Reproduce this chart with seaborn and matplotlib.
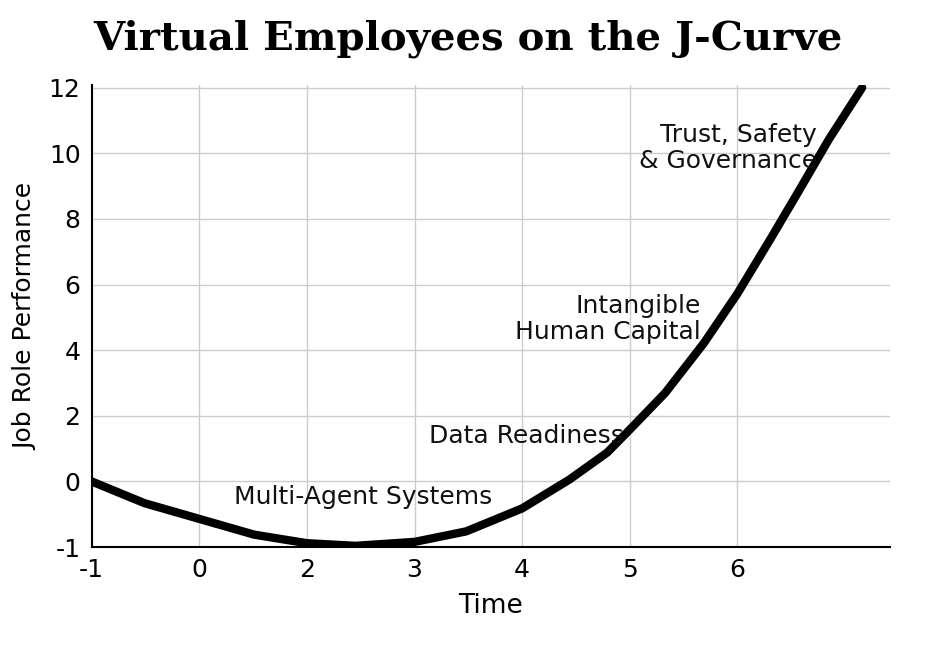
import matplotlib
matplotlib.use("Agg")
import matplotlib.pyplot as plt
import seaborn as sns

# tick labels sit on an evenly spaced grid, so positions are indices
x_labels = ["-1", "0", "2", "3", "4", "5", "6"]
y_labels = ["-1", "0", "2", "4", "6", "8", "10", "12"]

# curve, in grid-position units
curve_x = [0, 0.49, 1, 1.51, 2, 2.45, 3, 3.48, 4, 4.44, 4.79, 5, 5.33, 5.69, 6, 6.31, 6.58, 6.85, 7.16]
curve_y = [1, 0.67, 0.43, 0.19, 0.06, 0.02, 0.08, 0.24, 0.59, 1.03, 1.44, 1.79, 2.35, 3.11, 3.86, 4.70, 5.45, 6.21, 7.0]

labels = ["Multi-Agent Systems", "Data Readiness", "Intangible\nHuman Capital", "Trust, Safety\n& Governance"]
label_x = [2.52, 4.04, 5.66, 6.74]
label_y = [0.76, 1.7, 3.48, 6.08]
label_ha = ["center", "center", "right", "right"]

sns.set_theme(style="whitegrid")
plt.rcParams['font.family'] = ['DejaVu Sans']

fig = plt.figure(figsize=(9.36, 6.64), dpi=100)
ax = fig.add_axes([0.098, 0.176, 0.853, 0.696])

sns.lineplot(x=curve_x, y=curve_y, ax=ax, color="black", linewidth=6, sort=False,
             solid_joinstyle="round", solid_capstyle="round")

for t, x, y, ha in zip(labels, label_x, label_y, label_ha):
    ax.text(x, y, t, ha=ha, va="center", fontsize=18, multialignment=ha,
            color="#111111", linespacing=1.1)

ax.set_xticks(range(len(x_labels)))
ax.set_xticklabels(x_labels, fontsize=18)
ax.set_yticks(range(len(y_labels)))
ax.set_yticklabels(y_labels, fontsize=18)
ax.set_xlim(0, 7.42)
ax.set_ylim(0, 7.04)
ax.grid(True, color="#cccccc", linewidth=1)
ax.tick_params(axis="both", colors="black", length=0, pad=8)
for s in ["top", "right"]:
    ax.spines[s].set_visible(False)
for s in ["left", "bottom"]:
    ax.spines[s].set_color("black")
    ax.spines[s].set_linewidth(1.5)

ax.set_xlabel("Time", fontsize=19, color="black", labelpad=8)
ax.set_ylabel("Job Role Performance", fontsize=18, color="black", labelpad=8)
fig.suptitle("Virtual Employees on the J-Curve", fontsize=29, fontweight="bold",
             family="DejaVu Serif", color="black", y=0.97)

fig.savefig("out.png", dpi=100)
